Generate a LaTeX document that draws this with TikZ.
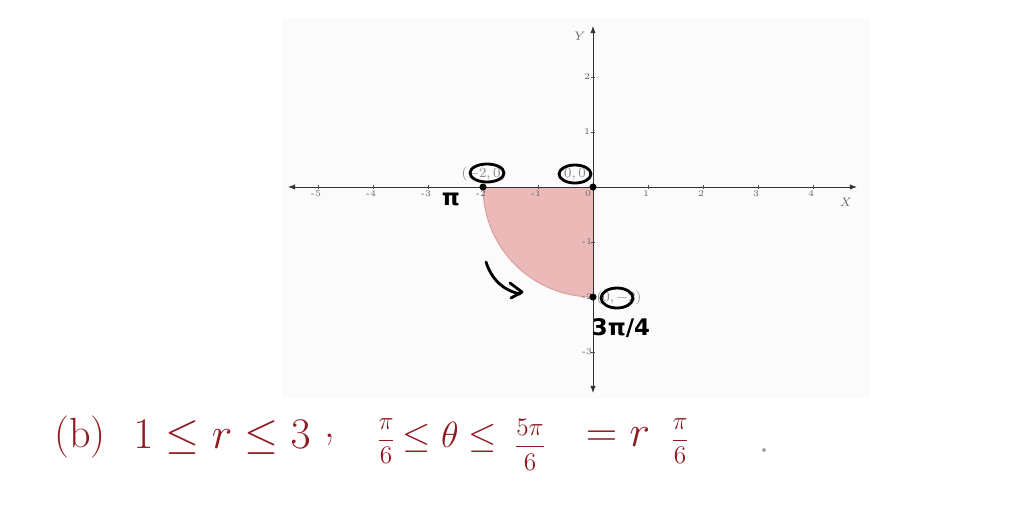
\documentclass[tikz,border=0pt]{standalone}
\usepackage{fontspec}
\newfontfamily\hand{DejaVu Sans}
\usetikzlibrary{arrows.meta}
\definecolor{maroon}{HTML}{8E1B22}
\definecolor{sectorfill}{HTML}{EBB9B8}
\definecolor{sectoredge}{HTML}{D99A9A}
\definecolor{ticklab}{HTML}{666666}
\tikzset{
  axis/.style={line width=0.5pt, black!80, {Latex[length=4pt,width=3pt]}-{Latex[length=4pt,width=3pt]}},
  tick/.style={line width=0.4pt, black!70},
  ticklabel/.style={font=\fontsize{5}{6}\selectfont, text=ticklab, inner sep=1pt},
  ptlabel/.style={font=\fontsize{8}{9}\selectfont, text=black!45, inner sep=0pt},
  dot/.style={circle, fill=black, inner sep=0pt, minimum size=4pt},
  ring/.style={draw=black, line width=1.6pt},
  ink/.style={line width=1.6pt, black, line cap=round, line join=round},
  bink/.style={font=\hand\bfseries\fontsize{13}{14}\selectfont, text=black, inner sep=0pt},
  red/.style={text=maroon, inner sep=0pt, font=\fontsize{24}{28}\selectfont},
  redmid/.style={text=maroon, inner sep=0pt, font=\fontsize{20}{24}\selectfont},
  redsmall/.style={text=maroon, inner sep=0pt, font=\fontsize{15}{18}\selectfont},
}
\begin{document}
\begin{tikzpicture}[x=0.02cm,y=-0.02cm]
\useasboundingbox (0,0) rectangle (1024,512);
\fill[white] (0,0) rectangle (1024,512);
\fill[black!1.5] (282,18) rectangle (870,398);
% shaded quarter disk
\fill[sectorfill] (593,187) -- (483,187) arc[start angle=180, end angle=90, radius=110] -- cycle;
\draw[sectoredge, line width=0.5pt] (483,187) arc[start angle=180, end angle=90, radius=110];
% axes
\coordinate (xl) at (288,187);
\coordinate (xr) at (857,187);
\coordinate (yt) at (593,26);
\coordinate (yb) at (593,393);
\draw[axis] (xl) -- (xr);
\draw[axis] (yb) -- (yt);
% x ticks
\foreach \v in {-5,-4,-3,-2,-1,1,2,3,4} {
  \draw[tick] ({593+55*\v},185) -- ({593+55*\v},189);
  \node[ticklabel] at ({591+55*\v},194) {\v};
}
\node[ticklabel] at (588,194) {0};
% y ticks
\foreach \v in {2,1,-1,-2,-3} {
  \draw[tick] (591,{187-55*\v}) -- (595,{187-55*\v});
  \node[ticklabel] at (587,{187-55*\v}) {\v};
}
\node[font=\fontsize{7}{8}\selectfont\itshape, text=ticklab] (xlab) at (845,202) {X};
\node[font=\fontsize{7}{8}\selectfont\itshape, text=ticklab] (ylab) at (578,36) {Y};
% points
\node[dot] (p1) at (483,187) {};
\node[dot] (p0) at (593,187) {};
\node[dot] (p2) at (593,297) {};
\node[ptlabel] (l1) at (484,174) {$(-2,0)$};
\node[ptlabel] (l0) at (575,174) {$(0,0)$};
\node[ptlabel] (l2) at (619,298) {$(0,-2)$};
\draw[ring] (487,173) ellipse [x radius=17, y radius=9];
\draw[ring] (575,174) ellipse [x radius=16, y radius=9];
\draw[ring] (617,298) ellipse [x radius=16, y radius=10];
% handwritten annotations
\node[bink] (pi) at (451,199) {π};
\node[bink] (tp) at (621,328) {3π/4};
\coordinate (a0) at (486,262);
\coordinate (a1) at (520,294);
\draw[ink] (a0) .. controls (492,280) and (503,290) .. (a1);
\draw[ink] (510,283) -- (522,292) -- (511,298);
% bottom handwritten line
\node[red] (b) at (80,437) {(b)};
\node[red] (r1) at (222,437) {$1\leq r\leq 3$};
\node[red] (cm) at (330,440) {,};
\node[redsmall] (f1) at (386,441) {$\displaystyle\frac{\pi}{6}$};
\node[redmid] (th) at (450,437) {$\leq\theta\leq$};
\node[redsmall] (f2) at (530,445) {$\displaystyle\frac{5\pi}{6}$};
\node[red] (im) at (618,437) {$=r$};
\node[redsmall] (f3) at (680,441) {$\displaystyle\frac{\pi}{6}$};
\fill[black!35] (764,450) circle[radius=2];
\end{tikzpicture}
\end{document}
